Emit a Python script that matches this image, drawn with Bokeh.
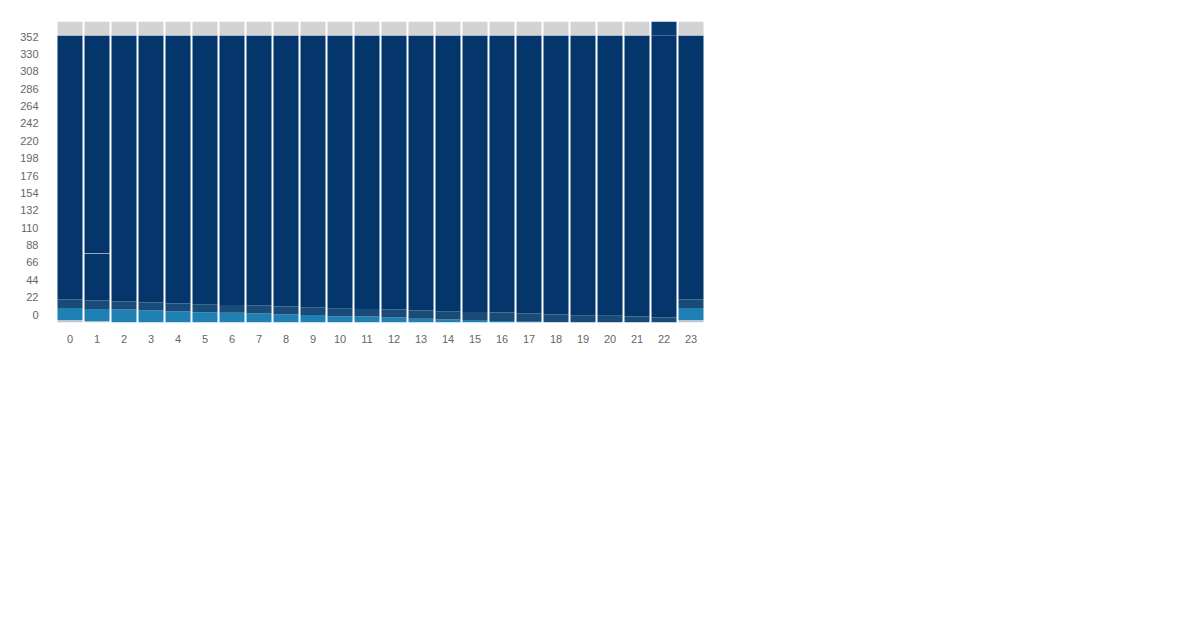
from bokeh.plotting import figure
from bokeh.models import ColumnDataSource, FixedTicker, Range1d
from bokeh.embed import file_html
from bokeh.resources import INLINE

hours = [str(h) for h in range(24)]
y_ticks = [0, 22, 44, 66, 88, 110, 132, 154, 176, 198, 220, 242, 264, 286, 308, 330, 352]
y_floor = -10
y_ceil = 371

# segment heights per hour, bottom to top
dotted = [3.3, 1.5, 0, 0, 0, 0, 0, 0, 0, 0, 0, 0,
          0, 0, 0, 0, 0, 0, 0, 0, 0, 0, 0, 3.3]
light = [15.2, 15.7, 16.3, 15.1, 13.8, 12.9, 12.2, 11.3, 10.0, 9.6, 7.5, 7.5,
         6.2, 4.9, 4.0, 3.3, 2.0, 1.1, 0.4, 0, 0, 0, 0, 15.2]
mid = [10.5, 10.5, 10.2, 10.1, 10.1, 10.1, 10.1, 10.1, 10.1, 9.6, 10.5, 9.7,
       10.1, 10.2, 10.2, 9.9, 10.5, 10.2, 9.6, 9.1, 8.4, 7.5, 6.2, 10.5]
navy_low = [0, 59.3, 0, 0, 0, 0, 0, 0, 0, 0, 0, 0,
            0, 0, 0, 0, 0, 0, 0, 0, 0, 0, 0, 0]
sliver = [0, 0.6, 0, 0, 0, 0, 0, 0, 0, 0, 0, 0,
          0, 0, 0, 0, 0, 0, 0, 0, 0, 0, 0, 0]
navy = [334.3, 275.7, 336.8, 338.1, 339.4, 340.3, 341.0, 341.9, 343.2, 344.1, 345.3, 346.1,
        347.0, 348.2, 349.1, 350.1, 350.8, 352.0, 353.3, 354.2, 354.9, 355.8, 357.1, 334.3]
top = [17.7] * 24

grey = "#d2d3d4"
top_colors = [grey] * 22 + ["#063a70", grey]

series = [
    (dotted, ["#bcc6d0"] * 24),
    (light, ["#1f80b4"] * 24),
    (mid, ["#194b79"] * 24),
    (navy_low, ["#05366b"] * 24),
    (sliver, ["#c9d3de"] * 24),
    (navy, ["#05366b"] * 24),
    (top, top_colors),
]

p = figure(x_range=hours, y_range=Range1d(y_floor, y_ceil),
           width=56 + 648 + 10, height=21 + 301 + 40,
           min_border_left=56, min_border_right=10, min_border_top=21, min_border_bottom=40,
           toolbar_location=None, output_backend="svg")

base = [y_floor] * 24
for vals, cols in series:
    tops = [b + v for b, v in zip(base, vals)]
    src = ColumnDataSource(dict(x=hours, bottom=base, top=tops, color=cols))
    p.vbar(x='x', bottom='bottom', top='top', width=25 / 27, source=src,
           fill_color='color', line_color=None)
    base = tops

p.yaxis.ticker = FixedTicker(ticks=y_ticks)
for ax in (p.xaxis, p.yaxis):
    ax.axis_line_color = None
    ax.major_tick_line_color = None
    ax.minor_tick_line_color = None
    ax.major_tick_out = 0
    ax.major_tick_in = 0
    ax.major_label_text_font = "Liberation Sans"
    ax.major_label_text_font_size = "11px"
    ax.major_label_text_color = "#666666"
p.yaxis.major_label_standoff = 18
p.xaxis.major_label_standoff = 12
p.xgrid.grid_line_color = None
p.ygrid.grid_line_color = None
p.outline_line_color = None

open("out.html", "w").write(file_html(p, INLINE))
